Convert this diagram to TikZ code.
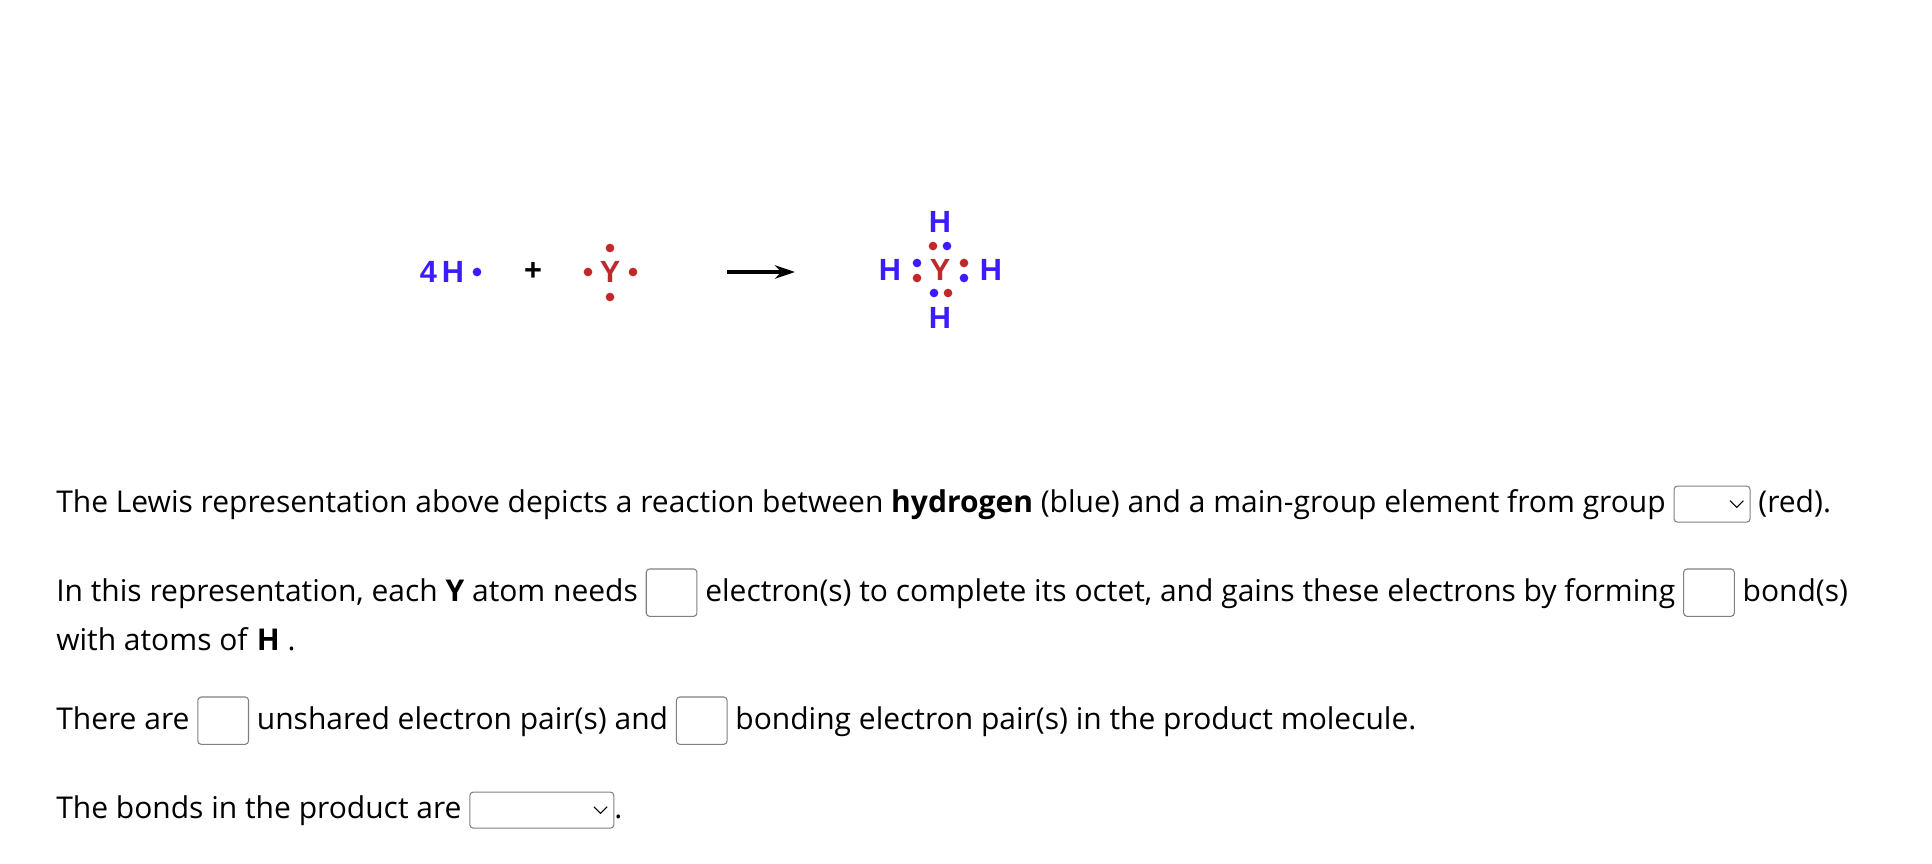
\documentclass[tikz,border=0pt]{standalone}
\usepackage{fontspec}
\setmainfont{Open Sans}
\newfontfamily\lewisfont{Liberation Sans}
\usetikzlibrary{arrows.meta}
\definecolor{hblue}{HTML}{3A1CFF}
\definecolor{yred}{HTML}{C0282A}
\definecolor{boxgray}{HTML}{808080}
\newcommand\tbox{\tikz[baseline=0pt]{\draw[boxgray,rounded corners=2.5pt,line width=0.8pt] (0,-11.5pt) rectangle (38pt,24pt);}}
\newcommand\ddbox[1]{\tikz[baseline=0pt]{\draw[boxgray,rounded corners=2.5pt,line width=0.8pt] (0,-7.6pt) rectangle (#1,19.4pt);
 \draw[black,line width=0.8pt] ([xshift=-15pt]#1,8.5pt) -- ([xshift=-10pt]#1,3.5pt) -- ([xshift=-5pt]#1,8.5pt);}}
\tikzset{
 line/.style={anchor=base west,inner sep=0pt,font=\fontsize{22.5pt}{27pt}\selectfont},
 hat/.style={text=hblue,font=\lewisfont\bfseries\fontsize{23pt}{27pt}\selectfont,inner sep=0pt},
 yat/.style={text=yred,font=\lewisfont\bfseries\fontsize{23pt}{27pt}\selectfont,inner sep=0pt},
 bd/.style={circle,fill=hblue,inner sep=0pt,minimum size=6.5pt},
 rd/.style={circle,fill=yred,inner sep=0pt,minimum size=6.5pt}
}
\begin{document}
\begin{tikzpicture}[x=0.75pt,y=-0.75pt]
\useasboundingbox (0,0) rectangle (1932,864);
% reactants
\node[hat] (four) at (442,272) {4\,H};
\node[bd] (hdot) at (477,272) {};
\node[font=\lewisfont\bfseries\fontsize{23pt}{27pt}\selectfont,inner sep=0pt] (plus) at (533,272) {+};
\node[yat] (y1) at (610,272) {Y};
\node[rd] (y1l) at (588,272) {};
\node[rd] (y1r) at (633,272) {};
\node[rd] (y1t) at (610,248) {};
\node[rd] (y1b) at (610,297) {};
\coordinate (as) at (727,272);
\coordinate (ae) at (795,272);
\draw[line width=3pt,-{Stealth[length=15pt,width=10pt]}] (as) -- (ae);
% product
\node[yat] (y2) at (940,270) {Y};
\node[hat] (ht) at (940,222) {H};
\node[hat] (hb) at (940,318) {H};
\node[hat] (hl) at (890,270) {H};
\node[hat] (hr) at (991,270) {H};
\node[rd] (t1) at (933,246) {};
\node[bd] (t2) at (947,246) {};
\node[bd] (l1) at (917,263) {};
\node[rd] (l2) at (917,278) {};
\node[rd] (r1) at (964,263) {};
\node[bd] (r2) at (964,278) {};
\node[bd] (b1) at (934,293) {};
\node[rd] (b2) at (948,293) {};
% text
\node[line] (l1t) at (56,512) {The Lewis representation above depicts a reaction between \textbf{hydrogen} (blue) and a main-group element from group \ddbox{57pt} (red).};
\node[line] (l2t) at (56,601) {In this representation, each \textbf{Y} atom needs \tbox{} electron(s) to complete its octet, and gains these electrons by forming \tbox{} bond(s)};
\node[line] (l2b) at (56,650) {with atoms of \textbf{H} .};
\node[line] (l3t) at (56,729) {There are \tbox{} unshared electron pair(s) and \tbox{} bonding electron pair(s) in the product molecule.};
\node[line] (l4t) at (56,818) {The bonds in the product are \ddbox{108pt}.};
\end{tikzpicture}
\end{document}
